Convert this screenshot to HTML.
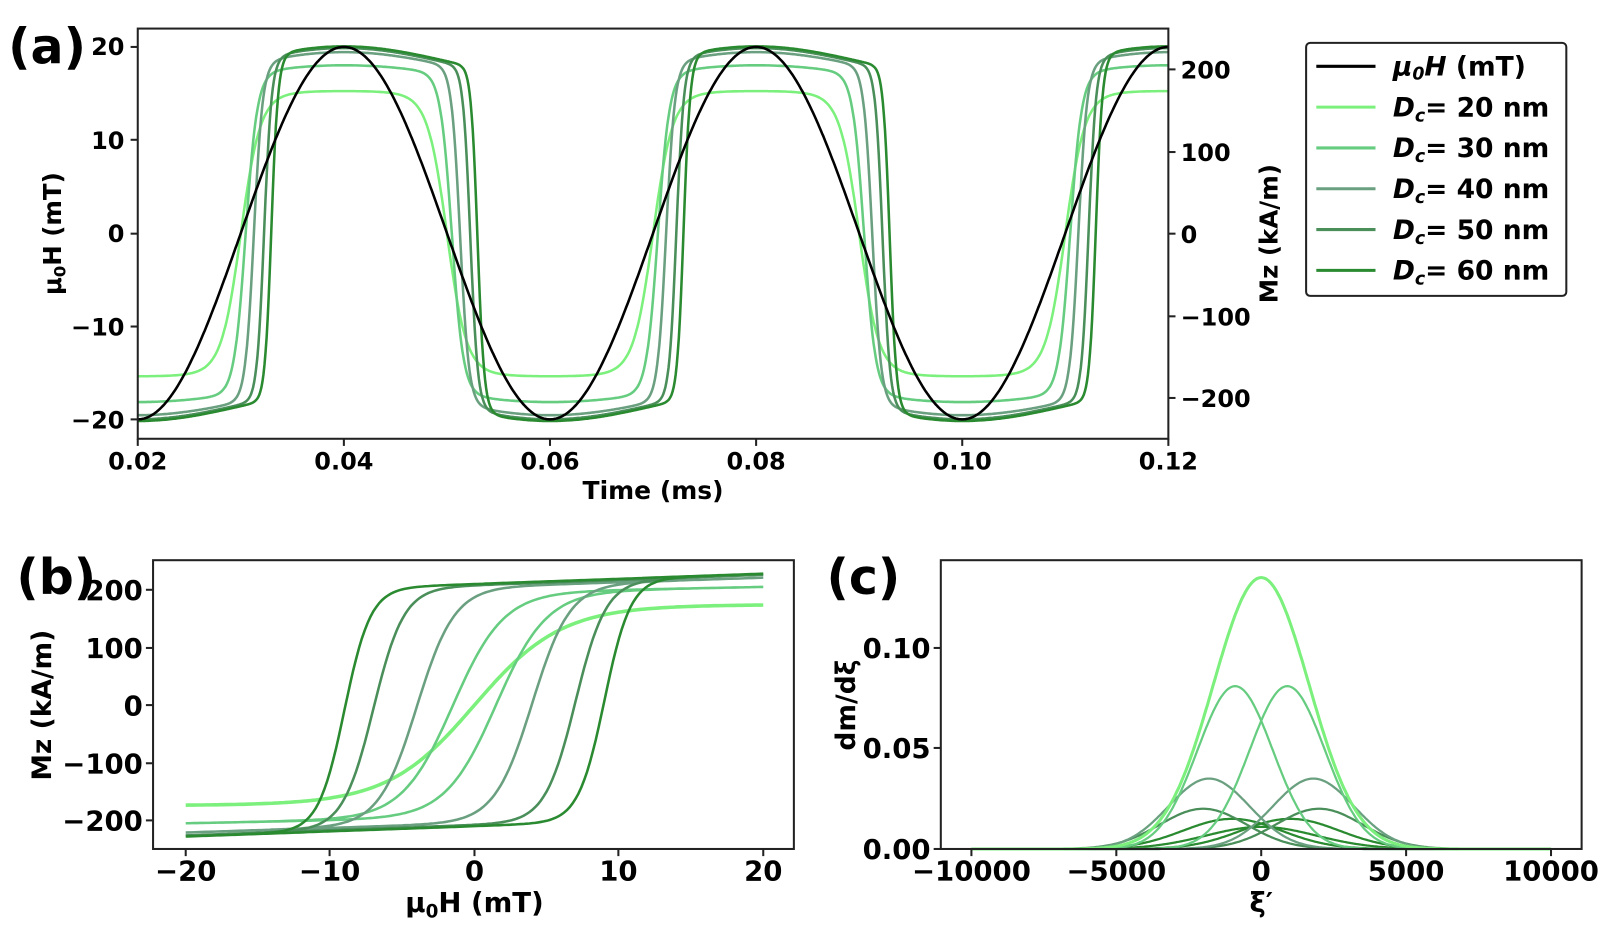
<!DOCTYPE html>
<html><head><meta charset="utf-8"><style>
body{margin:0;background:#fff;width:1600px;height:928px;overflow:hidden}
svg{font-family:"DejaVu Sans","Liberation Sans",sans-serif;font-weight:bold}
</style></head><body>
<svg id="s" width="1600" height="928" viewBox="0 0 1600 928" xmlns="http://www.w3.org/2000/svg">
<rect width="1600" height="928" fill="#fff"/>
<g transform="scale(1.0204)">
<text x="8" y="62" font-size="48">(a)</text>
<text x="16" y="582" font-size="48">(b)</text>
<text x="810" y="582" font-size="48">(c)</text>
<g id="a"></g><g id="b"></g><g id="c"></g>
<rect x="135" y="28" width="1010" height="402" fill="none" stroke="#222" stroke-width="2"/>
<g font-size="23.5" text-anchor="end">
<text x="122" y="54">20</text><text x="122" y="146">10</text><text x="122" y="237">0</text>
<text x="122" y="329">−10</text><text x="122" y="420">−20</text></g>
<g stroke="#222" stroke-width="2"><line x1="128" y1="46" x2="135" y2="46"/><line x1="128" y1="137" x2="135" y2="137"/><line x1="128" y1="229" x2="135" y2="229"/><line x1="128" y1="320" x2="135" y2="320"/><line x1="128" y1="411" x2="135" y2="411"/>
<line x1="1145" y1="68" x2="1152" y2="68"/><line x1="1145" y1="149" x2="1152" y2="149"/><line x1="1145" y1="229" x2="1152" y2="229"/><line x1="1145" y1="310" x2="1152" y2="310"/><line x1="1145" y1="390" x2="1152" y2="390"/>
<line x1="135" y1="430" x2="135" y2="437"/><line x1="337" y1="430" x2="337" y2="437"/><line x1="539" y1="430" x2="539" y2="437"/><line x1="741" y1="430" x2="741" y2="437"/><line x1="943" y1="430" x2="943" y2="437"/><line x1="1145" y1="430" x2="1145" y2="437"/></g>
<g font-size="23.5"><text x="1157" y="77">200</text><text x="1157" y="158">100</text><text x="1157" y="238">0</text><text x="1157" y="319">−100</text><text x="1157" y="399">−200</text></g>
<g font-size="23.5" text-anchor="middle"><text x="135" y="460">0.02</text><text x="337" y="460">0.04</text><text x="539" y="460">0.06</text><text x="741" y="460">0.08</text><text x="943" y="460">0.10</text><text x="1145" y="460">0.12</text>
<text x="640" y="489" font-size="24.5">Time (ms)</text></g>
<text transform="translate(60,229) rotate(-90)" font-size="24" text-anchor="middle">μ<tspan font-size="16" dy="4">0</tspan><tspan dy="-4">H (mT)</tspan></text>
<text transform="translate(1252,229) rotate(-90)" font-size="24" text-anchor="middle">Mz (kA/m)</text>
<rect x="1280" y="42" width="255" height="248" rx="4" fill="#fff" stroke="#222" stroke-width="2"/>
<g stroke-width="3"><line x1="1290" y1="65" x2="1348" y2="65" stroke="#000"/><line x1="1290" y1="105" x2="1348" y2="105" stroke="#7cf07c"/><line x1="1290" y1="145" x2="1348" y2="145" stroke="#66cc80"/><line x1="1290" y1="185" x2="1348" y2="185" stroke="#6aa080"/><line x1="1290" y1="225" x2="1348" y2="225" stroke="#4a8e5a"/><line x1="1290" y1="265" x2="1348" y2="265" stroke="#2a8a30"/></g>
<g font-size="26"><text x="1365" y="74"><tspan font-style="italic">μ<tspan font-size="17" dy="4">0</tspan><tspan dy="-4">H</tspan></tspan> (mT)</text>
<text x="1365" y="114"><tspan font-style="italic">D<tspan font-size="17" dy="5">c</tspan></tspan><tspan dy="-5">= 20 nm</tspan></text>
<text x="1365" y="154"><tspan font-style="italic">D<tspan font-size="17" dy="5">c</tspan></tspan><tspan dy="-5">= 30 nm</tspan></text>
<text x="1365" y="194"><tspan font-style="italic">D<tspan font-size="17" dy="5">c</tspan></tspan><tspan dy="-5">= 40 nm</tspan></text>
<text x="1365" y="234"><tspan font-style="italic">D<tspan font-size="17" dy="5">c</tspan></tspan><tspan dy="-5">= 50 nm</tspan></text>
<text x="1365" y="274"><tspan font-style="italic">D<tspan font-size="17" dy="5">c</tspan></tspan><tspan dy="-5">= 60 nm</tspan></text></g>
<rect x="150" y="549" width="628" height="283" fill="none" stroke="#222" stroke-width="2"/>
<g font-size="27" text-anchor="end"><text x="140" y="588">200</text><text x="140" y="645">100</text><text x="140" y="701">0</text><text x="140" y="758">−100</text><text x="140" y="814">−200</text></g>
<g font-size="27" text-anchor="middle"><text x="182" y="863">−20</text><text x="323" y="863">−10</text><text x="465" y="863">0</text><text x="606" y="863">10</text><text x="748" y="863">20</text>
<text x="465" y="894">μ<tspan font-size="18" dy="5">0</tspan><tspan dy="-5">H (mT)</tspan></text></g>
<text transform="translate(50,691) rotate(-90)" font-size="26" text-anchor="middle">Mz (kA/m)</text>
<g stroke="#222" stroke-width="2"><line x1="143" y1="578" x2="150" y2="578"/><line x1="143" y1="635" x2="150" y2="635"/><line x1="143" y1="691" x2="150" y2="691"/><line x1="143" y1="748" x2="150" y2="748"/><line x1="143" y1="804" x2="150" y2="804"/>
<line x1="182" y1="832" x2="182" y2="839"/><line x1="323" y1="832" x2="323" y2="839"/><line x1="465" y1="832" x2="465" y2="839"/><line x1="606" y1="832" x2="606" y2="839"/><line x1="748" y1="832" x2="748" y2="839"/>
<line x1="915" y1="832" x2="922" y2="832"/><line x1="915" y1="733" x2="922" y2="733"/><line x1="915" y1="635" x2="922" y2="635"/>
<line x1="952" y1="832" x2="952" y2="839"/><line x1="1094" y1="832" x2="1094" y2="839"/><line x1="1236" y1="832" x2="1236" y2="839"/><line x1="1378" y1="832" x2="1378" y2="839"/><line x1="1520" y1="832" x2="1520" y2="839"/></g>
<rect x="922" y="549" width="628" height="283" fill="none" stroke="#222" stroke-width="2"/>
<g font-size="27" text-anchor="end"><text x="912" y="842">0.00</text><text x="912" y="743">0.05</text><text x="912" y="645">0.10</text></g>
<g font-size="27" text-anchor="middle"><text x="952" y="863">−10000</text><text x="1094" y="863">−5000</text><text x="1236" y="863">0</text><text x="1378" y="863">5000</text><text x="1520" y="863">10000</text>
<text x="1236" y="894">ξ′</text></g>
<text transform="translate(838,691) rotate(-90)" font-size="26" text-anchor="middle">dm/dξ</text>
</g>
</svg>
<script>
const NS="http://www.w3.org/2000/svg";
function path(g,d,c,w){const p=document.createElementNS(NS,"path");p.setAttribute("d",d);p.setAttribute("stroke",c);p.setAttribute("stroke-width",w||2.5);p.setAttribute("fill","none");document.getElementById(g).appendChild(p);}
const S=[{c:"#7cf07c",Ms:172,Hc:0,w:6,k:0.1},{c:"#66cc80",Ms:195,Hc:1.5,w:3.5,k:0.5},{c:"#6aa080",Ms:205,Hc:4,w:2.6,k:0.8},{c:"#4a8e5a",Ms:208,Hc:7,w:2.1,k:0.9},{c:"#2a8a30",Ms:210,Hc:9,w:1.8,k:0.9}];
function M(s,H,up){return s.Ms*Math.tanh((H-(up?s.Hc:-s.Hc))/s.w)+s.k*H;}
const xa=t=>135+(t-0.02)*10100, ya=v=>228.5-v*9.125, yr=m=>229-m*0.805;
let d="";for(let i=0;i<=1000;i++){const t=0.02+i*0.0001;const H=-20*Math.cos(2*Math.PI*(t-0.02)/0.04);d+=(i?"L":"M")+xa(t).toFixed(1)+","+ya(H).toFixed(1);}
S.forEach(s=>{let e="";for(let i=0;i<=1000;i++){const t=0.02+i*0.0001;const ph=2*Math.PI*(t-0.02)/0.04;const H=-20*Math.cos(ph);const up=Math.sin(ph)>=0;e+=(i?"L":"M")+xa(t).toFixed(1)+","+yr(M(s,H,up)).toFixed(1);}path("a",e,s.c,2.5);});
path("a",d,"#000",2.5);
const xb=H=>465+H*14.15, yb=m=>691-m*0.565;
S.forEach(s=>{let e="";for(let i=0;i<=200;i++){const H=-20+i*0.2;e+=(i?"L":"M")+xb(H).toFixed(1)+","+yb(M(s,H,true)).toFixed(1);}
for(let i=0;i<=200;i++){const H=20-i*0.2;e+="L"+xb(H).toFixed(1)+","+yb(M(s,H,false)).toFixed(1);}path("b",e,s.c,s.Hc==0?3.5:2.5);});
const xc=x=>1236+x*0.0284, yc=v=>832-v*1970;
const G=[{c:"#2a8a30",p:[[0,0.011,1900]]},{c:"#2a8a30",p:[[-1000,0.015,1700]]},{c:"#2a8a30",p:[[1000,0.015,1700]]},{c:"#4a8e5a",p:[[-2000,0.020,1500]]},{c:"#4a8e5a",p:[[2000,0.020,1500]]},{c:"#6aa080",p:[[-1800,0.035,1400]]},{c:"#6aa080",p:[[1800,0.035,1400]]},{c:"#66cc80",p:[[-900,0.081,1300]]},{c:"#66cc80",p:[[900,0.081,1300]]},{c:"#7cf07c",p:[[0,0.135,1650]]}];
G.forEach(g=>{let e="";for(let i=0;i<=400;i++){const x=-10000+i*50;let v=0;g.p.forEach(q=>{v+=q[1]*Math.exp(-((x-q[0])**2)/(2*q[2]*q[2]));});e+=(i?"L":"M")+xc(x).toFixed(1)+","+yc(v).toFixed(1);}path("c",e,g.c,g.c=="#7cf07c"?3:2.2);});
</script>
</body></html>
